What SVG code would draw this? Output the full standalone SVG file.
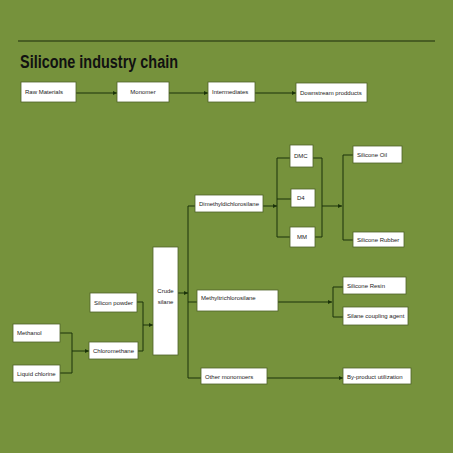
<svg xmlns="http://www.w3.org/2000/svg" width="453" height="453" viewBox="0 0 453 453">
<defs>
<marker id="ah" viewBox="0 0 6 6" refX="6" refY="3" markerWidth="4" markerHeight="4" orient="auto" markerUnits="userSpaceOnUse">
<path d="M0,0 L6,3 L0,6 z" fill="#1b330a"/>
</marker>
<style>
.box{fill:#ffffff;stroke:#4f6228;stroke-width:0.8}
.t{font-family:"Liberation Sans",Arial,sans-serif;font-size:6px;fill:#1a1a1a}
.c{stroke:#1b330a;stroke-width:1;fill:none}
.a{stroke:#1b330a;stroke-width:1;fill:none;marker-end:url(#ah)}
</style>
</defs>
<rect width="453" height="453" fill="#76923C"/>
<line x1="18" y1="41" x2="435" y2="41" stroke="#1a2a0a" stroke-width="1"/>
<text x="20" y="68" font-family="'Liberation Sans',Arial,sans-serif" font-weight="bold" font-size="18" fill="#111" textLength="158" lengthAdjust="spacingAndGlyphs">Silicone industry chain</text>

<g id="connectors">
<line class="a" x1="76" y1="93" x2="117" y2="93"/>
<line class="a" x1="169" y1="93" x2="208" y2="93"/>
<line class="a" x1="255" y1="93" x2="296" y2="93"/>
<polyline class="c" points="60,333 72,333 72,373 60,373"/>
<line class="a" x1="72" y1="351" x2="89" y2="351"/>
<polyline class="c" points="137,302 143,302 143,351 138,351"/>
<line class="a" x1="143" y1="325" x2="153" y2="325"/>
<line class="a" x1="178" y1="293" x2="188" y2="293"/>
<polyline class="c" points="195,206 188,206 188,378 201,378"/>
<line class="c" x1="188" y1="302" x2="197" y2="302"/>
<line class="a" x1="263" y1="206" x2="277" y2="206"/>
<polyline class="c" points="290,158 277,158 277,237 290,237"/>
<line class="c" x1="277" y1="199" x2="291" y2="199"/>
<polyline class="c" points="313,158 322,158 322,237 315,237"/>
<line class="a" x1="322" y1="206" x2="342" y2="206"/>
<polyline class="c" points="353,155 343,155 343,240 353,240"/>
<line class="a" x1="278" y1="302" x2="332" y2="302"/>
<polyline class="c" points="343,287 333,287 333,317 343,317"/>
<line class="a" x1="267" y1="378" x2="343" y2="378"/>
</g>

<g id="n-raw"><rect class="box" x="21" y="82" width="55" height="20"/><text class="t" x="25" y="94">Raw Materials</text></g>
<g id="n-monomer"><rect class="box" x="117" y="82" width="52" height="20"/><text class="t" x="143" y="94" text-anchor="middle">Monomer</text></g>
<g id="n-inter"><rect class="box" x="208" y="82" width="47" height="20"/><text class="t" x="212" y="94">Intermediates</text></g>
<g id="n-down"><rect class="box" x="296" y="83" width="71" height="19"/><text class="t" x="300" y="95">Downstream prodducts</text></g>

<g id="n-methanol"><rect class="box" x="13" y="324" width="47" height="18"/><text class="t" x="17" y="335">Methanol</text></g>
<g id="n-chlorine"><rect class="box" x="13" y="365" width="47" height="17"/><text class="t" x="17" y="376">Liquid chlorine</text></g>
<g id="n-silicon"><rect class="box" x="90" y="293" width="47" height="19"/><text class="t" x="94" y="305">Silicon powder</text></g>
<g id="n-chloromethane"><rect class="box" x="89" y="342" width="49" height="17"/><text class="t" x="93" y="353">Chloromethane</text></g>
<g id="n-crude"><rect class="box" x="153" y="247" width="25" height="108"/><text class="t" x="165.5" y="293" text-anchor="middle">Crude</text><text class="t" x="165.5" y="304" text-anchor="middle">silane</text></g>

<g id="n-dimethyl"><rect class="box" x="195" y="195" width="68" height="17"/><text class="t" x="199" y="206">Dimethyldichlorosilane</text></g>
<g id="n-dmc"><rect class="box" x="290" y="145" width="23" height="22"/><text class="t" x="294" y="158">DMC</text></g>
<g id="n-d4"><rect class="box" x="291" y="189" width="24" height="18"/><text class="t" x="297" y="200">D4</text></g>
<g id="n-mm"><rect class="box" x="290" y="227" width="25" height="20"/><text class="t" x="297" y="239">MM</text></g>
<g id="n-oil"><rect class="box" x="353" y="146" width="49" height="17"/><text class="t" x="357" y="157">Silicone Oil</text></g>
<g id="n-rubber"><rect class="box" x="353" y="232" width="51" height="15"/><text class="t" x="357" y="242">Silicone Rubber</text></g>

<g id="n-methyltri"><rect class="box" x="197" y="290" width="81" height="21"/><text class="t" x="201" y="300">Methyltrichlorosilane</text></g>
<g id="n-resin"><rect class="box" x="343" y="277" width="63" height="17"/><text class="t" x="347" y="288">Silicone Resin</text></g>
<g id="n-coupling"><rect class="box" x="343" y="307" width="65" height="18"/><text class="t" x="347" y="318">Silane coupling agent</text></g>
<g id="n-other"><rect class="box" x="201" y="368" width="66" height="16"/><text class="t" x="205" y="379">Other monomoers</text></g>
<g id="n-byproduct"><rect class="box" x="343" y="368" width="68" height="16"/><text class="t" x="347" y="379">By-product utilization</text></g>
</svg>
